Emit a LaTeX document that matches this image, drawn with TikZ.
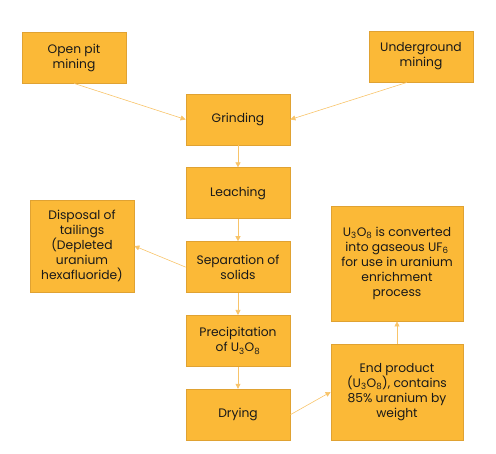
\documentclass[tikz,border=0pt]{standalone}
\usepackage{fontspec}
\setmainfont{Poppins}
\usetikzlibrary{positioning, arrows.meta}
\definecolor{boxfill}{HTML}{FBB937}
\definecolor{boxline}{HTML}{E0A232}
\definecolor{flowline}{HTML}{F8C46A}

\begin{document}
\begin{tikzpicture}[x=1pt,y=-1pt,>={Triangle[length=5pt,width=5pt]},node distance=22pt,
    stage/.style={rectangle,draw=boxline,fill=boxfill,line width=0.8pt,minimum width=104pt,
      minimum height=51pt,align=center,text=black!90,font=\fontsize{12.3}{15}\selectfont},
    wide/.style={stage,minimum width=132pt},
    flow/.style={->,draw=flowline,line width=0.6pt}]
  \useasboundingbox (0,0) rectangle (496,454);

  \node[stage] (open) at (74,57.5) {Open pit\\mining};
  \node[stage] (under) at (421,56.5) {Underground\\mining};
  \node[stage] (grind) at (238,119.5) {Grinding};
  \node[stage] (leach) [below=of grind] {Leaching};
  \node[stage] (sep) [below=of leach] {Separation of\\solids};
  \node[stage] (prec) [below=of sep] {Precipitation\\of U\textsubscript{3}O\textsubscript{8}};
  \node[stage] (dry) [below=of prec] {Drying};
  \node[stage,minimum height=92pt] (disp) at (82,246) {Disposal of\\tailings\\(Depleted\\uranium\\hexafluoride)};
  \node[wide,minimum height=115pt] (conv) at (397,263.5) {U\textsubscript{3}O\textsubscript{8} is converted\\into gaseous UF\textsubscript{6}\\for use in uranium\\enrichment\\process};
  \node[wide,minimum height=96pt] (endp) at (397,392) {End product\\(U\textsubscript{3}O\textsubscript{8}), contains\\85\% uranium by\\weight};

  \path (open.south) edge[flow] (grind.west)
        ([xshift=-14pt]under.south) edge[flow] (grind.east)
        (grind) edge[flow] (leach)
        (leach) edge[flow] (sep)
        (sep.west) edge[flow] (disp.east)
        (sep) edge[flow] (prec)
        (prec) edge[flow] (dry)
        (dry.east) edge[flow] (endp.west)
        (endp) edge[flow] (conv)
        ;
\end{tikzpicture}
\end{document}
